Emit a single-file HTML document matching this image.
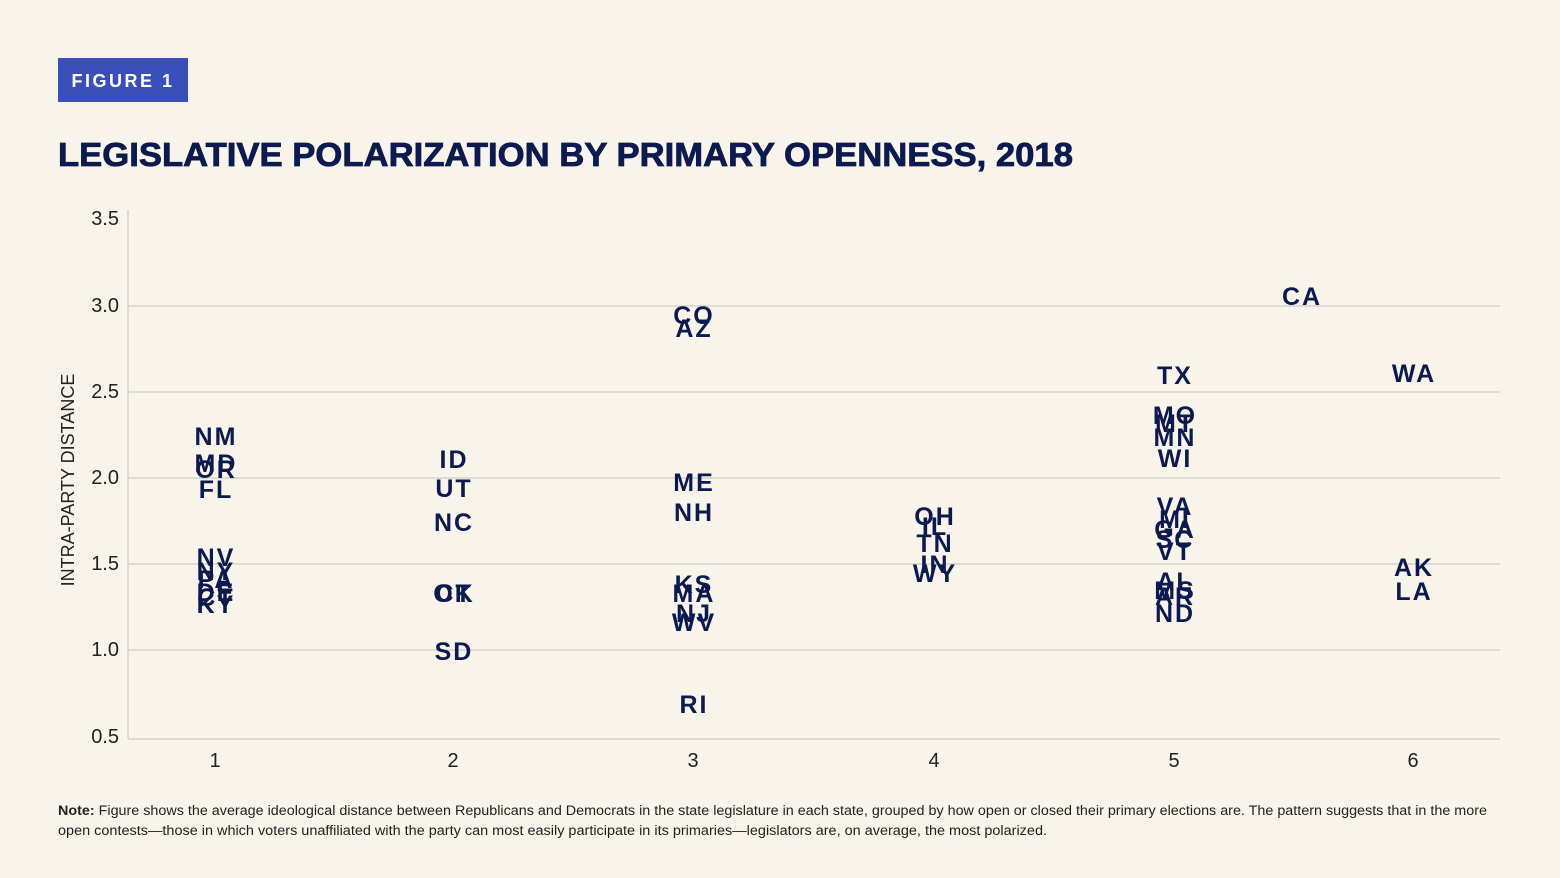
<!DOCTYPE html>
<html><head><meta charset="utf-8"><style>
html,body{margin:0;padding:0;background:#f8f4ec;}
svg{display:block;}
</style></head><body>
<svg width="1560" height="878" viewBox="0 0 1560 878" xmlns="http://www.w3.org/2000/svg" font-family="Liberation Sans, sans-serif">
<rect width="1560" height="878" fill="#f8f4ec"/>
<rect x="58" y="58" width="130" height="44" fill="#3a4fba"/>
<text x="123" y="87" fill="#fff" font-size="18" font-weight="bold" text-anchor="middle" letter-spacing="2.5">FIGURE 1</text>
<text x="58" y="166" fill="#0d1a4f" stroke="#0d1a4f" stroke-width="0.8" font-size="33" font-weight="bold" textLength="1015" lengthAdjust="spacingAndGlyphs">LEGISLATIVE POLARIZATION BY PRIMARY OPENNESS, 2018</text>
<g stroke="#d6d2cb" stroke-width="1.5">
<line x1="128" y1="306" x2="1500" y2="306"/>
<line x1="128" y1="392" x2="1500" y2="392"/>
<line x1="128" y1="478" x2="1500" y2="478"/>
<line x1="128" y1="564" x2="1500" y2="564"/>
<line x1="128" y1="650" x2="1500" y2="650"/>
<line x1="128" y1="739" x2="1500" y2="739"/>
<line x1="128" y1="210" x2="128" y2="739"/>
</g>
<g fill="#222" font-size="20" text-anchor="end">
<text x="119" y="225">3.5</text><text x="119" y="312">3.0</text><text x="119" y="398">2.5</text>
<text x="119" y="484">2.0</text><text x="119" y="570">1.5</text><text x="119" y="656">1.0</text><text x="119" y="743">0.5</text>
</g>
<g fill="#222" font-size="20" text-anchor="middle">
<text x="215" y="767">1</text><text x="453" y="767">2</text><text x="693" y="767">3</text>
<text x="934" y="767">4</text><text x="1174" y="767">5</text><text x="1413" y="767">6</text>
</g>
<text transform="translate(74,480) rotate(-90)" fill="#222" font-size="18" text-anchor="middle">INTRA-PARTY DISTANCE</text>
<g fill="#0d1a4f" font-size="25" font-weight="bold" text-anchor="middle" dominant-baseline="central" letter-spacing="2">
<text x="216" y="437">NM</text><text x="216" y="464">MD</text><text x="216" y="470">OR</text><text x="216" y="490">FL</text>
<text x="216" y="558">NV</text><text x="216" y="572">NY</text><text x="216" y="580">PA</text><text x="216" y="593">DE</text><text x="216" y="598">CT</text><text x="216" y="605">KY</text>
<text x="454" y="460">ID</text><text x="454" y="489">UT</text><text x="454" y="523">NC</text><text x="454" y="594">OK</text><text x="454" y="594">CT</text><text x="454" y="652">SD</text>
<text x="694" y="316">CO</text><text x="694" y="329">AZ</text><text x="694" y="483">ME</text><text x="694" y="513">NH</text>
<text x="694" y="585">KS</text><text x="694" y="594">MA</text><text x="694" y="614">NJ</text><text x="694" y="623">WV</text><text x="694" y="705">RI</text>
<text x="935" y="517">OH</text><text x="935" y="527">IL</text><text x="935" y="544">TN</text><text x="935" y="565">IN</text><text x="935" y="574">WY</text>
<text x="1175" y="376">TX</text><text x="1175" y="416">MO</text><text x="1175" y="424">MT</text><text x="1175" y="438">MN</text><text x="1175" y="459">WI</text>
<text x="1175" y="507">VA</text><text x="1175" y="520">MI</text><text x="1175" y="530">GA</text><text x="1175" y="540">SC</text><text x="1175" y="552">VT</text>
<text x="1175" y="582">AL</text><text x="1175" y="591">MS</text><text x="1175" y="597">AR</text><text x="1175" y="614">ND</text>
<text x="1302" y="297">CA</text><text x="1414" y="374">WA</text><text x="1414" y="568">AK</text><text x="1414" y="592">LA</text>
</g>
<g fill="#222" font-size="13.5">
<text x="58" y="815" textLength="1429" lengthAdjust="spacingAndGlyphs"><tspan font-weight="bold">Note:</tspan> Figure shows the average ideological distance between Republicans and Democrats in the state legislature in each state, grouped by how open or closed their primary elections are. The pattern suggests that in the more</text>
<text x="58" y="835" textLength="989" lengthAdjust="spacingAndGlyphs">open contests—those in which voters unaffiliated with the party can most easily participate in its primaries—legislators are, on average, the most polarized.</text>
</g>
</svg>
</body></html>
